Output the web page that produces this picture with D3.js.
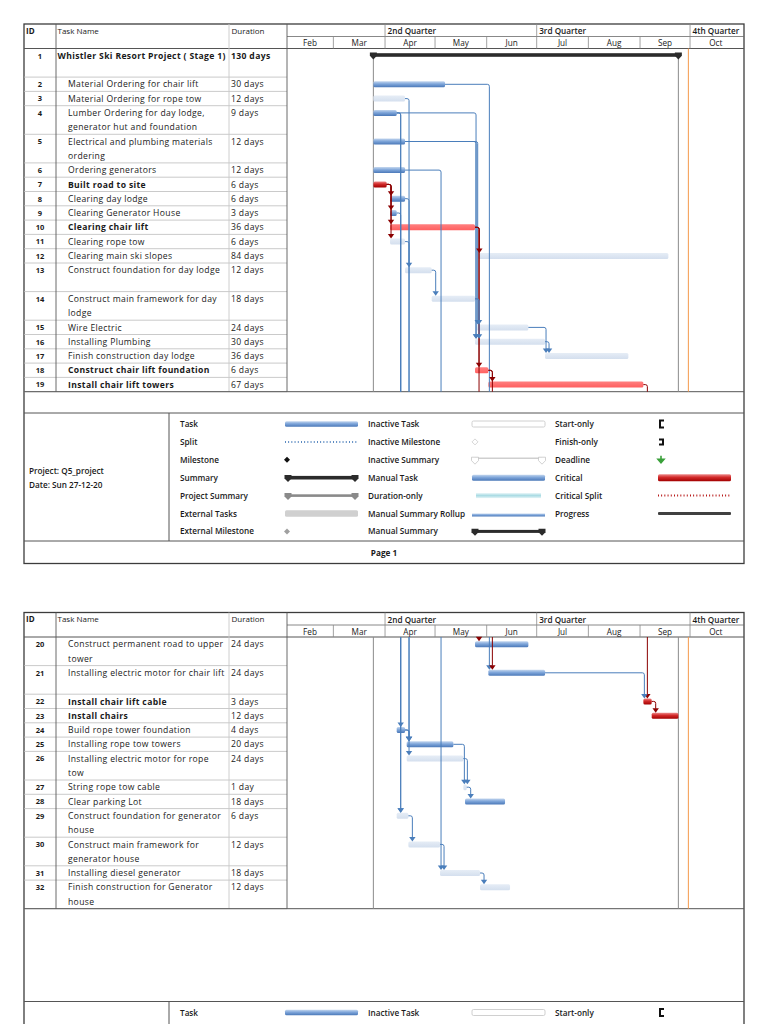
<!DOCTYPE html>
<html>
<head>
<meta charset="utf-8">
<title>Whistler Ski Resort Project - Gantt</title>
<script src="https://cdn.jsdelivr.net/npm/d3@7"></script>
<style>
  html, body { margin: 0; padding: 0; background: #fff; }
  svg { display: block; font-family: "Open Sans", "Liberation Sans", sans-serif; }
</style>
</head>
<body>
<svg id="chart"></svg>
<script>
const taskIds = [1, 2, 3, 4, 5, 6, 7, 8, 9, 10, 11, 12, 13, 14, 15, 16,
                 17, 18, 19, 20, 21, 22, 23, 24, 25, 26, 27, 28, 29, 30, 31, 32];
const taskNames = [
  "Whistler Ski Resort Project ( Stage 1)",
  "Material Ordering for chair lift",
  "Material Ordering for rope tow",
  "Lumber Ordering for day lodge,\ngenerator hut and foundation",
  "Electrical and plumbing materials\nordering",
  "Ordering generators",
  "Built road to site",
  "Clearing day lodge",
  "Clearing Generator House",
  "Clearing chair lift",
  "Clearing rope tow",
  "Clearing main ski slopes",
  "Construct foundation for day lodge",
  "Construct main framework for day\nlodge",
  "Wire Electric",
  "Installing Plumbing",
  "Finish construction day lodge",
  "Construct chair lift foundation",
  "Install chair lift towers",
  "Construct permanent road to upper\ntower",
  "Installing electric motor for chair lift",
  "Install chair lift cable",
  "Install chairs",
  "Build rope tower foundation",
  "Installing rope tow towers",
  "Installing electric motor for rope\ntow",
  "String rope tow cable",
  "Clear parking Lot",
  "Construct foundation for generator\nhouse",
  "Construct main framework for\ngenerator house",
  "Installing diesel generator",
  "Finish construction for Generator\nhouse"
];
const durations = ["130 days", "30 days", "12 days", "9 days", "12 days", "12 days", "6 days", "6 days",
  "3 days", "36 days", "6 days", "84 days", "12 days", "18 days", "24 days", "30 days", "36 days",
  "6 days", "67 days", "24 days", "24 days", "3 days", "12 days", "4 days", "20 days", "24 days",
  "1 day", "18 days", "6 days", "12 days", "18 days", "12 days"];
const starts = ["2021-03-25", "2021-03-25", "2021-03-25", "2021-03-25", "2021-03-25", "2021-03-25",
  "2021-03-25", "2021-04-04", "2021-04-04", "2021-04-04", "2021-04-04", "2021-05-27", "2021-04-13",
  "2021-04-29", "2021-05-26", "2021-05-25", "2021-07-06", "2021-05-25", "2021-06-02", "2021-05-25",
  "2021-06-02", "2021-09-03", "2021-09-08", "2021-04-08", "2021-04-14", "2021-04-14", "2021-05-18",
  "2021-05-19", "2021-04-08", "2021-04-15", "2021-05-04", "2021-05-28"];
const finishes = ["2021-09-24", "2021-05-07", "2021-04-13", "2021-04-08", "2021-04-13", "2021-04-13",
  "2021-04-02", "2021-04-13", "2021-04-08", "2021-05-25", "2021-04-13", "2021-09-18", "2021-04-29",
  "2021-05-25", "2021-06-26", "2021-07-06", "2021-08-25", "2021-06-02", "2021-09-03", "2021-06-26",
  "2021-07-06", "2021-09-08", "2021-09-24", "2021-04-13", "2021-05-12", "2021-05-18", "2021-05-20",
  "2021-06-12", "2021-04-15", "2021-05-04", "2021-05-28", "2021-06-15"];
// summary | task | light | crit | critLight
const kinds = ["summary", "task", "light", "task", "task", "task", "crit", "task", "task", "critLight",
  "light", "light", "light", "light", "light", "light", "light", "critLight", "critLight", "task",
  "task", "crit", "crit", "task", "task", "light", "light", "task", "light", "light", "light", "light"];
const rowSpans = [2, 1, 1, 2, 2, 1, 1, 1, 1, 1, 1, 1, 2, 2, 1, 1, 1, 1, 1,
                  2, 2, 1, 1, 1, 1, 2, 1, 1, 2, 2, 1, 2];
const boldIds = [1, 7, 10, 18, 19, 22, 23];
const pageBreakId = 20;
const links = [[2, 21], [3, 25], [4, 24], [4, 29], [4, 16], [5, 15], [5, 16], [6, 31],
  [7, 8], [7, 9], [7, 10], [7, 11], [8, 13], [9, 29], [10, 12], [10, 18], [10, 20], [11, 25],
  [13, 14], [14, 15], [14, 16], [15, 17], [16, 17], [18, 19], [18, 21], [19, 22], [21, 22],
  [22, 23], [24, 25], [24, 26], [25, 27], [26, 27], [27, 28], [29, 30], [30, 31], [31, 32]];

const quarterLabels = ["", "2nd Quarter", "3rd Quarter", "4th Quarter"];
const quarterStarts = ["2021-02-01", "2021-04-01", "2021-07-01", "2021-10-01"];
const monthLabels = ["Feb", "Mar", "Apr", "May", "Jun", "Jul", "Aug", "Sep", "Oct"];
const projectStart = "2021-03-25";
const projectFinish = "2021-09-24";
const statusDate = "2021-09-30";

const legendLabels1 = ["Task", "Split", "Milestone", "Summary", "Project Summary", "External Tasks", "External Milestone"];
const legendLabels2 = ["Inactive Task", "Inactive Milestone", "Inactive Summary", "Manual Task", "Duration-only", "Manual Summary Rollup", "Manual Summary"];
const legendLabels3 = ["Start-only", "Finish-only", "Deadline", "Critical", "Critical Split", "Progress"];
const legendSymbols1 = ["task", "split", "milestone", "summary", "projSummary", "external", "extMilestone"];
const legendSymbols2 = ["inactiveTask", "inactiveMilestone", "inactiveSummary", "manualTask", "durationOnly", "manualRollup", "manualSummary"];
const legendSymbols3 = ["startOnly", "finishOnly", "deadline", "critical", "critSplit", "progress"];
const projectInfo = ["Project: Q5_project", "Date: Sun 27-12-20"];
const pageLabels = ["Page 1", "Page 2"];

// ---- layout ----
const W = 768, H = 1024;
const frameL = 24, frameR = 744, colId = 56, colName = 229, colDur = 287;
const U = 14.3, HEAD = 24.5, PAGE_H = 539.5, LEGEND_OFF = 389;
const pageTops = [24, 612.5];
const BLUE = "#4a7ebb", RED = "#8b0000";
const visible = y => y < H - 3;   // the second page runs off the bottom of the window

const parse = d3.utcParse("%Y-%m-%d");
const x = d3.scaleUtc()
  .domain([parse("2021-02-01"), parse("2021-11-01")])
  .range([286.7, 741.7]);

const svg = d3.select("#chart").attr("width", W).attr("height", H);

// gradients
const defs = svg.append("defs");
let grad = (id, stops) => {
  let lg = defs.append("linearGradient").attr("id", id)
    .attr("x1", 0).attr("y1", 0).attr("x2", 0).attr("y2", 1);
  stops.forEach(([o, c]) => lg.append("stop").attr("offset", o).attr("stop-color", c));
};
grad("gBlue", [[0, "#c3d6ee"], [0.45, "#7fa6da"], [1, "#4a78b8"]]);
grad("gRed", [[0, "#ee8c8c"], [0.45, "#d22a2a"], [1, "#a30000"]]);
grad("gRedLight", [[0, "#ff8080"], [1, "#ff5f5f"]]);
grad("gLight", [[0, "#e6edf6"], [1, "#d4dfee"]]);
grad("gCyan", [[0, "#e4f4f7"], [0.5, "#a9dbe3"], [1, "#e4f4f7"]]);

const fills = { task: "url(#gBlue)", crit: "url(#gRed)", critLight: "url(#gRedLight)", light: "url(#gLight)" };

const idx = id => taskIds.indexOf(id);
const pageOf = id => id < pageBreakId ? 0 : 1;

// row positions per page
const rowTop = {}, rowsTop = [], rowsBottom = [];
pageTops.forEach((top, p) => {
  let y = top + HEAD;
  rowsTop[p] = y;
  taskIds.filter(id => pageOf(id) === p).forEach(id => {
    rowTop[id] = y;
    y += rowSpans[idx(id)] * U;
  });
  rowsBottom[p] = y;
});
const barTop = id => rowTop[id] + 4.2;
const barMid = id => rowTop[id] + 7.2;
const xs = id => x(parse(starts[idx(id)]));
const xe = id => x(parse(finishes[idx(id)]));

let summaryShape = (g, x0, x1, cy, fill, h = 3.6) => {
  g.append("rect").attr("x", x0).attr("y", cy - h / 2).attr("width", x1 - x0).attr("height", h).attr("fill", fill);
  [x0, x1].forEach(cx => g.append("path")
    .attr("d", `M${cx - 3.5},${cy - 2.6}H${cx + 3.5}V${cy + 0.8}L${cx},${cy + 4.4}L${cx - 3.5},${cy + 0.8}Z`)
    .attr("fill", fill));
};

let line = (g, x1, y1, x2, y2, stroke, w = 1) => g.append("line")
  .attr("x1", x1).attr("y1", y1).attr("x2", x2).attr("y2", y2)
  .attr("stroke", stroke).attr("stroke-width", w);

let drawPage = (p) => {
  const top = pageTops[p];
  const g = svg.append("g");
  const rb = rowsBottom[p], rt = rowsTop[p];
  const legTop = top + LEGEND_OFF;

  // frame
  g.append("rect").attr("x", frameL).attr("y", top).attr("width", frameR - frameL).attr("height", PAGE_H)
    .attr("fill", "#fff").attr("stroke", "#3c3c3c").attr("stroke-width", 1.3);

  // header lines
  line(g, colDur, top + 12.5, frameR, top + 12.5, "#6a6a6a", 0.8);
  line(g, frameL, rt, frameR, rt, "#555", 1);
  d3.utcMonths(x.domain()[0], x.domain()[1]).forEach((m, i) => {
    if (i > 0) line(g, x(m), top + 12.5, x(m), rt, "#8a8a8a", 0.8);
  });
  quarterStarts.forEach((q, i) => {
    if (i > 0) line(g, x(parse(q)), top, x(parse(q)), top + 12.5, "#8a8a8a", 0.8);
  });

  // header text
  const ht = g.append("g").attr("font-size", 8).attr("fill", "#1a1a1a");
  ht.append("text").attr("x", 26).attr("y", top + 9.5).attr("font-weight", "bold").text("ID");
  ht.append("text").attr("x", 57.5).attr("y", top + 9.5).text("Task Name");
  ht.append("text").attr("x", 231.5).attr("y", top + 9.5).text("Duration");
  quarterLabels.forEach((q, i) => {
    ht.append("text").attr("x", x(parse(quarterStarts[i])) + 2.5).attr("y", top + 10)
      .attr("font-size", 8.2).attr("font-weight", 600).text(q);
  });
  d3.utcMonths(x.domain()[0], x.domain()[1]).forEach((m, i) => {
    const m2 = d3.utcMonth.offset(m, 1);
    ht.append("text").attr("x", (x(m) + x(m2)) / 2).attr("y", top + 22)
      .attr("text-anchor", "middle").attr("font-size", 8.2).text(monthLabels[i]);
  });

  // table rows
  const ids = taskIds.filter(id => pageOf(id) === p);
  ids.forEach(id => {
    const y0 = rowTop[id], y1 = y0 + rowSpans[idx(id)] * U;
    line(g, frameL, y1, colDur, y1, "#bdbdbd", 0.8);
    const bold = boldIds.includes(id);
    g.append("text").attr("x", 40).attr("y", y0 + 10).attr("text-anchor", "middle")
      .attr("font-size", 7.5).attr("font-weight", "bold").attr("fill", "#1a1a1a").text(id);
    const t = g.append("text").attr("x", id === 1 ? 57.5 : 68).attr("y", y0 + 10.3)
      .attr("font-size", 8.6).attr("letter-spacing", 0.35)
      .attr("font-weight", bold ? "bold" : "normal").attr("fill", "#1a1a1a");
    taskNames[idx(id)].split("\n").forEach((s, k) => {
      t.append("tspan").attr("x", id === 1 ? 57.5 : 68).attr("y", y0 + 10.3 + k * U).text(s);
    });
    g.append("text").attr("x", 231).attr("y", y0 + 10.3).attr("font-size", 8.6).attr("letter-spacing", 0.35)
      .attr("font-weight", kinds[idx(id)] === "summary" ? "bold" : "normal").attr("fill", "#1a1a1a")
      .text(durations[idx(id)]);
  });

  // column separators
  line(g, colId, top, colId, rb, "#5a5a5a", 0.9);
  line(g, colName, top, colName, rb, "#c8c8c8", 0.9);
  line(g, colDur, top, colDur, rb, "#5a5a5a", 0.9);
  line(g, frameL, rb, frameR, rb, "#555", 1);

  // project start / finish and status lines
  const gy0 = p === 0 ? barMid(1) - 1 : rt;
  line(g, x(parse(projectStart)), gy0, x(parse(projectStart)), rb, "#8c8c8c", 1);
  line(g, x(parse(projectFinish)), gy0, x(parse(projectFinish)), rb, "#8c8c8c", 1);
  line(g, x(parse(statusDate)), rt, x(parse(statusDate)), rb, "#f59a4c", 1);

  // bars
  ids.forEach(id => {
    const k = kinds[idx(id)];
    if (k === "summary") {
      summaryShape(g, xs(id), xe(id), rowTop[id] + 6.5, "#2b2b2b");
    } else {
      g.append("rect").attr("x", xs(id)).attr("y", barTop(id))
        .attr("width", Math.max(2.5, xe(id) - xs(id))).attr("height", 6)
        .attr("rx", 1.5).attr("fill", fills[k]);
    }
  });

  // dependency connectors
  const lg = g.append("g").attr("fill", "none").attr("stroke-width", 1);
  links.forEach(([a, b]) => {
    const pa = pageOf(a), pb = pageOf(b);
    const col = (kinds[idx(a)] === "crit" || kinds[idx(a)] === "critLight") ? RED : BLUE;
    const lx = Math.max(xe(a) + 4, xs(b) + 1);
    const tipY = barTop(b);
    if (pa === p) {
      const ay = barMid(a);
      const yEnd = pb === p ? tipY - 4 : rb;
      lg.append("path").attr("stroke", col)
        .attr("d", `M${xe(a)},${ay}H${lx - 2}Q${lx},${ay} ${lx},${ay + 2}V${yEnd}`);
    }
    if (pb === p) {
      if (pa !== p) lg.append("path").attr("stroke", col).attr("d", `M${lx},${rt}V${tipY - 4}`);
      g.append("path").attr("fill", col)
        .attr("d", `M${lx - 3.2},${tipY - 4.5}H${lx + 3.2}L${lx},${tipY}Z`);
    }
  });

  // legend block
  line(g, frameL, legTop, frameR, legTop, "#555", 1);
  line(g, 169, legTop, 169, legTop + 128, "#555", 1);
  line(g, frameL, legTop + 128, frameR, legTop + 128, "#555", 1);
  const info = g.append("g").attr("font-size", 8.2).attr("font-weight", 600).attr("fill", "#1a1a1a");
  projectInfo.forEach((s, i) => {
    const ty = legTop + 61 + i * 14;
    if (visible(ty)) info.append("text").attr("x", 29).attr("y", ty).text(s);
  });
  if (visible(legTop + 143)) {
    g.append("text").attr("x", 384).attr("y", legTop + 143).attr("text-anchor", "middle")
      .attr("font-size", 8.2).attr("font-weight", "bold").attr("fill", "#1a1a1a").text(pageLabels[p]);
  }

  const cols = [[legendLabels1, legendSymbols1, 180, 285], [legendLabels2, legendSymbols2, 368, 472],
                [legendLabels3, legendSymbols3, 555, 658]];
  cols.forEach(([labels, syms, lx, sx]) => {
    labels.forEach((lab, i) => {
      const cy = legTop + 11 + i * 17.9;
      if (!visible(cy + 4)) return;
      g.append("text").attr("x", lx).attr("y", cy + 3).attr("font-size", 8.2)
        .attr("font-weight", 600).attr("fill", "#1a1a1a").text(lab);
      drawSymbol(g, syms[i], sx, sx + 73, cy);
    });
  });
};

let drawSymbol = (g, s, x0, x1, cy) => {
  let bar = (fill, h = 5.5, stroke = "none") => g.append("rect").attr("x", x0).attr("y", cy - h / 2)
    .attr("width", x1 - x0).attr("height", h).attr("rx", 1.5).attr("fill", fill).attr("stroke", stroke).attr("stroke-width", 0.8);
  let diamond = (cx, fill, stroke = "none") => g.append("path")
    .attr("d", `M${cx},${cy - 3}L${cx + 3},${cy}L${cx},${cy + 3}L${cx - 3},${cy}Z`)
    .attr("fill", fill).attr("stroke", stroke).attr("stroke-width", 0.7);
  switch (s) {
    case "task": bar("url(#gBlue)"); break;
    case "split": line(g, x0, cy, x1, cy, BLUE, 2).attr("stroke-dasharray", "0.9,2.3"); break;
    case "milestone": diamond(x0 + 2, "#111"); break;
    case "summary": summaryShape(g, x0 + 3, x1 - 3, cy, "#2b2b2b"); break;
    case "projSummary": summaryShape(g, x0 + 3, x1 - 3, cy, "#8a8a8a", 2.6); break;
    case "external": bar("#d0d0d0", 6.5); break;
    case "extMilestone": diamond(x0 + 2, "#a0a0a0"); break;
    case "inactiveTask": bar("#fff", 6, "#c4c4c4"); break;
    case "inactiveMilestone": diamond(x0 + 3, "#fff", "#c4c4c4"); break;
    case "inactiveSummary":
      line(g, x0 + 3, cy - 1.5, x1 - 3, cy - 1.5, "#cfcfcf", 1.5);
      [x0 + 3, x1 - 3].forEach(cx => g.append("path")
        .attr("d", `M${cx - 3.5},${cy - 2.6}H${cx + 3.5}V${cy + 0.8}L${cx},${cy + 4.4}L${cx - 3.5},${cy + 0.8}Z`)
        .attr("fill", "#fff").attr("stroke", "#bdbdbd").attr("stroke-width", 0.7));
      break;
    case "manualTask": bar("url(#gBlue)", 6); break;
    case "durationOnly": g.append("rect").attr("x", x0 + 4).attr("y", cy - 2.5).attr("width", x1 - x0 - 8)
      .attr("height", 5).attr("fill", "url(#gCyan)"); break;
    case "manualRollup": g.append("rect").attr("x", x0).attr("y", cy).attr("width", x1 - x0)
      .attr("height", 3).attr("fill", "url(#gBlue)"); break;
    case "manualSummary": summaryShape(g, x0 + 3, x1 - 3, cy, "#2b2b2b", 3); break;
    case "startOnly": g.append("path").attr("d", `M${x0 + 6},${cy - 3.5}H${x0 + 2}V${cy + 3.5}H${x0 + 6}`)
      .attr("fill", "none").attr("stroke", "#111").attr("stroke-width", 2); break;
    case "finishOnly": g.append("path").attr("d", `M${x0 + 1},${cy - 2.5}H${x0 + 5}V${cy + 2.5}H${x0 + 1}`)
      .attr("fill", "none").attr("stroke", "#111").attr("stroke-width", 2); break;
    case "deadline": g.append("path")
      .attr("d", `M${x0 + 3},${cy - 4}V${cy}M${x0},${cy - 0.5}L${x0 + 6},${cy - 0.5}L${x0 + 3},${cy + 3}Z`)
      .attr("fill", "#3aa03a").attr("stroke", "#3aa03a").attr("stroke-width", 1.6); break;
    case "critical": bar("url(#gRed)", 7); break;
    case "critSplit": line(g, x0, cy, x1, cy, "#b00000", 2).attr("stroke-dasharray", "0.9,2.3"); break;
    case "progress": g.append("rect").attr("x", x0).attr("y", cy - 1.6).attr("width", x1 - x0)
      .attr("height", 3.2).attr("rx", 1).attr("fill", "#404040"); break;
  }
};

pageTops.forEach((t, p) => drawPage(p));
</script>
</body>
</html>
